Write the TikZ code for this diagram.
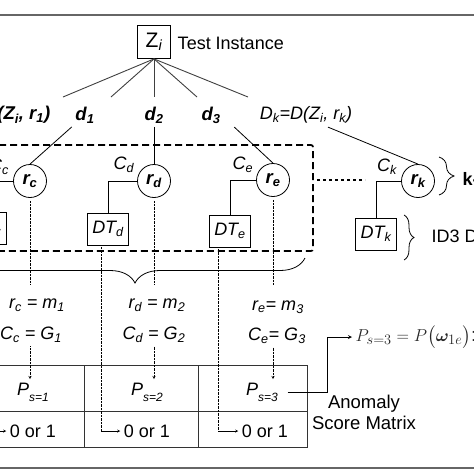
\documentclass[tikz,border=0pt]{standalone}
\usepackage{amsmath,amssymb}
\usepackage{bm}
\usepackage{fontspec}
\setmainfont{Liberation Sans}
\usetikzlibrary{decorations.pathreplacing}

\newcommand{\psub}[1]{P\raisebox{-6pt}{\fontsize{12}{12}\selectfont s=#1}}

\begin{document}
\begin{tikzpicture}[x=1pt,y=-1pt,>=stealth,line width=0.8pt,
  every node/.style={font=\fontsize{18}{21}\selectfont},
  dtbox/.style={draw,minimum width=41pt,minimum height=32pt,inner sep=0pt,font=\fontsize{18}{21}\selectfont\itshape},
  clus/.style={draw,circle,minimum size=33pt,inner sep=0pt,font=\fontsize{18.5}{21}\selectfont\bfseries\itshape},
  dist/.style={font=\fontsize{18.5}{21}\selectfont\bfseries\itshape},
  ital/.style={font=\fontsize{18}{21}\selectfont\itshape},
  fan/.style={draw=black!75,line width=0.9pt},
  dotln/.style={densely dotted,thin},
  dashbox/.style={dash pattern=on 7pt off 4pt,line width=1.7pt,rounded corners=2pt},
  brc/.style={decorate,decoration={brace,amplitude=#1}}]
\useasboundingbox (0,0) rectangle (474,474);
\clip (0,0) rectangle (474,474);
\draw[black!60,line width=1.2pt] (0,15) -- (474,15);
\draw[black!60,line width=1.2pt] (0,468) -- (474,468);

% test instance and distances
\node[draw,minimum size=33pt,inner sep=0pt,font=\fontsize{21}{21}\selectfont] (zi) at (154,42) {Z\textsubscript{\itshape i}};
\node[anchor=west] (ti) at (174,43) {Test Instance};
\foreach \x in {63,111,154,197,248} \draw[fan] (zi.south) -- (\x,97);
\node[dist,anchor=east] (D1) at (54,115) {D(Z\textsubscript{i}, r\textsubscript{1})};
\node[dist] (d1) at (85,115) {d\textsubscript{1}};
\node[dist] (d2) at (154,115) {d\textsubscript{2}};
\node[dist] (d3) at (211,115) {d\textsubscript{3}};
\node[ital] (Dk) at (306,115) {D\textsubscript{k}=D(Z\textsubscript{i}, r\textsubscript{k})};

% clusters
\draw[dashbox] (-20,145) rectangle (313,251);
\node[clus] (rc) at (30,181) {r\textsubscript{c}};
\node[clus] (rd) at (154,181) {r\textsubscript{d}};
\node[clus] (re) at (273,180) {r\textsubscript{e}};
\node[clus] (rk) at (418,181) {r\textsubscript{k}};
\node[ital] (cc) at (-1,167) {C\textsubscript{c}};
\node[ital] (cd) at (124,165) {C\textsubscript{d}};
\node[ital] (ce) at (243,165) {C\textsubscript{e}};
\node[ital] (ck) at (387,167) {C\textsubscript{k}};
\node[dtbox] (dtc) at (-14,228) {DT\textsubscript{c}};
\node[dtbox] (dtd) at (108,229) {DT\textsubscript{d}};
\node[dtbox] (dte) at (230,231) {DT\textsubscript{e}};
\node[dtbox] (dtk) at (376,234) {DT\textsubscript{k}};
\draw (d1.south west) -- (rc.north);
\draw (d2.south) -- (rd.north);
\draw ([xshift=10pt]d3.south east) -- (re.north);
\draw ([xshift=22pt]Dk.south) -- (rk.north);
\foreach \s in {c,d,e,k} \draw (r\s.west) -| (dt\s.north);
\draw[dash pattern=on 3pt off 3pt,line width=2.5pt] (317,180) -- (365,180);

% braces
\draw[brc=15pt] (439,157) -- (439,195);
\node[anchor=west,font=\fontsize{18}{21}\selectfont\bfseries] (kl) at (459,179) {k-Means};
\draw[brc=10pt] (404,215) -- (404,260);
\node[anchor=west] (il) at (428,236) {ID3 Decision Trees};
\draw[brc=25pt] (305,258) -- (-35,258);
\coordinate (yb) at (0,284);
\foreach \s in {c,d,e} \draw[dotln] ([yshift=-3pt]r\s.south) -- (r\s |- yb);

% selected cluster
\node[ital] (mc) at (37,305) {r\textsubscript{c} = m\textsubscript{1}};
\node[ital] (gc) at (31,335) {C\textsubscript{c} = G\textsubscript{1}};
\node[ital] (md) at (157,305) {r\textsubscript{d} = m\textsubscript{2}};
\node[ital] (gd) at (154,335) {C\textsubscript{d} = G\textsubscript{2}};
\node[ital] (me) at (278,307) {r\textsubscript{e}= m\textsubscript{3}};
\node[ital] (ge) at (277,336) {C\textsubscript{e}= G\textsubscript{3}};

% score matrix
\draw[black!80] (-30,365) rectangle (307,447);
\draw[black!80] (-30,411) -- (307,411);
\draw[black!80] (84,365) -- (84,447);
\draw[black!80] (198,365) -- (198,447);
\node[ital] (pc) at (33,392) {\psub{1}};
\node[ital] (pd) at (147,392) {\psub{2}};
\node[ital] (pe) at (262,392) {\psub{3}};
\node (oc) at (33,431) {0 or 1};
\node (od) at (147,431) {0 or 1};
\node (oe) at (265,431) {0 or 1};
\foreach \s in {c,d,e} \draw[dotln,->] (r\s |- g\s.south) -- (r\s |- p\s.north);
\foreach \s/\dx in {c/-8,d/-7,e/-12} {
  \draw[dotln] ([xshift=\dx pt]dt\s.south) -- ([xshift=\dx pt]dt\s.south |- o\s.west) coordinate (t\s);
  \draw[->,thin] (t\s) -- (o\s.west);
}
\node[align=center,font=\fontsize{18.5}{21}\selectfont] (asm) at (364,412) {Anomaly\\Score Matrix};
\coordinate (kx) at (321,0);
\node[anchor=west,text=black!85,font=\fontsize{19}{21}\selectfont] (pf) at (352,337) {$P_{s=3} = P\bigl(\boldsymbol{\omega}_{1e}\bigr)$:};
\draw[->] ([xshift=6pt]pe.east) -- ([xshift=6pt]pe.east -| kx) |- (pf.west);
\end{tikzpicture}
\end{document}
